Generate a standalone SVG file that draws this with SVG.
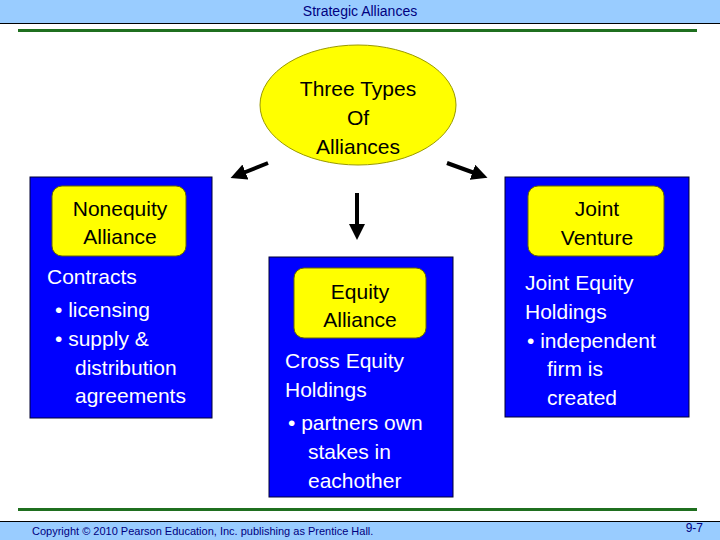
<svg xmlns="http://www.w3.org/2000/svg" width="720" height="540" viewBox="0 0 720 540">
<style>
.band{fill:#99ccff}
.box{fill:#0000ff;stroke:#000033;stroke-width:1}
.lab{fill:#ffff00;stroke:#666600;stroke-width:1}
.t{font-family:"Liberation Sans",Arial,sans-serif;font-size:21px;fill:#000}
.w{font-family:"Liberation Sans",Arial,sans-serif;font-size:21px;fill:#fff}
.s{font-family:"Liberation Sans",Arial,sans-serif;fill:#000080}
.ar{stroke:#000;stroke-width:4;fill:none;marker-end:url(#ah)}
</style>
<defs><marker id="ah" markerWidth="4" markerHeight="4" refX="2" refY="2" orient="auto" markerUnits="strokeWidth"><path d="M0,0 L4,2 L0,4 Z" fill="#000"/></marker></defs>
<rect class="band" x="0" y="0" width="720" height="23"/>
<line x1="0" y1="23.5" x2="720" y2="23.5" stroke="#000"/>
<text class="s" x="360" y="16" text-anchor="middle" font-size="14">Strategic Alliances</text>
<rect x="18" y="29" width="679" height="3" fill="#1f6f1f"/>
<rect x="18" y="508" width="679" height="3" fill="#1f6f1f"/>
<rect class="band" x="0" y="521" width="720" height="19"/>
<line x1="0" y1="521.5" x2="720" y2="521.5" stroke="#000"/>
<text class="s" x="32" y="535" font-size="11">Copyright © 2010 Pearson Education, Inc. publishing as Prentice Hall.</text>
<text class="s" x="703" y="532" text-anchor="end" font-size="12">9-7</text>
<g id="connectors">
<line class="ar" x1="268" y1="163" x2="238" y2="175"/>
<line class="ar" x1="357" y1="193" x2="357" y2="232"/>
<line class="ar" x1="447" y1="163" x2="480" y2="175"/>
</g>
<g id="top">
<ellipse cx="358" cy="105" rx="98" ry="60" fill="#ffff00" stroke="#999900"/>
<text class="t" text-anchor="middle"><tspan x="358" y="96">Three Types</tspan><tspan x="358" y="125">Of</tspan><tspan x="358" y="154">Alliances</tspan></text>
</g>
<g id="nonequity">
<rect class="box" x="30" y="177" width="182" height="241"/>
<rect class="lab" x="52" y="186" width="134" height="70" rx="10"/>
<text class="t" text-anchor="middle"><tspan x="120" y="216">Nonequity</tspan><tspan x="120" y="244">Alliance</tspan></text>
<text class="w"><tspan x="47" y="284">Contracts</tspan><tspan x="55" y="317">•  licensing</tspan><tspan x="55" y="346">•  supply &amp;</tspan><tspan x="75" y="375">distribution</tspan><tspan x="75" y="403">agreements</tspan></text>
</g>
<g id="equity">
<rect class="box" x="269" y="257" width="184" height="240"/>
<rect class="lab" x="294" y="268" width="132" height="70" rx="10"/>
<text class="t" text-anchor="middle"><tspan x="360" y="299">Equity</tspan><tspan x="360" y="327">Alliance</tspan></text>
<text class="w"><tspan x="285" y="368">Cross Equity</tspan><tspan x="285" y="397">Holdings</tspan><tspan x="288" y="430">•  partners own</tspan><tspan x="308" y="459">stakes in</tspan><tspan x="308" y="488">eachother</tspan></text>
</g>
<g id="joint">
<rect class="box" x="505" y="177" width="184" height="240"/>
<rect class="lab" x="528" y="186" width="136" height="70" rx="10"/>
<text class="t" text-anchor="middle"><tspan x="597" y="216">Joint</tspan><tspan x="597" y="245">Venture</tspan></text>
<text class="w"><tspan x="525" y="290">Joint Equity</tspan><tspan x="525" y="319">Holdings</tspan><tspan x="527" y="348">•  independent</tspan><tspan x="547" y="376">firm is</tspan><tspan x="547" y="405">created</tspan></text>
</g>
</svg>
